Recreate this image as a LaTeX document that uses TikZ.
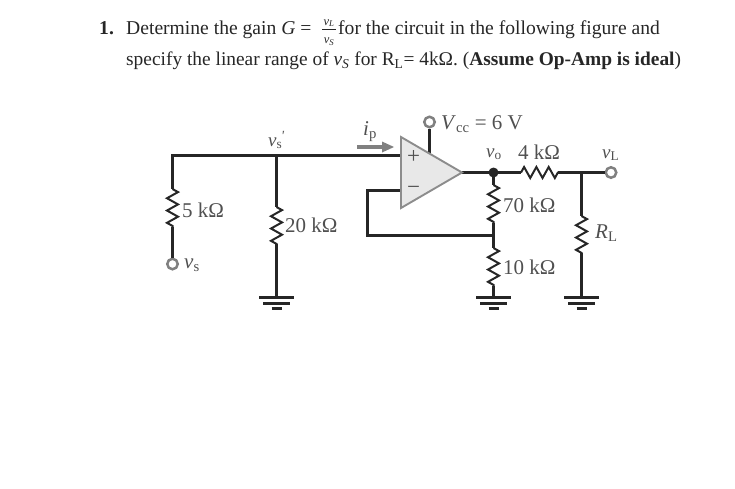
\documentclass[tikz,border=0pt]{standalone}
\usepackage{fontspec}
\setmainfont{Liberation Serif}
\usetikzlibrary{decorations.pathmorphing}
\definecolor{wirec}{HTML}{262626}
\definecolor{labelc}{HTML}{505050}
\definecolor{termc}{HTML}{808080}
\tikzset{
  wire/.style={draw=wirec,line width=2.7pt},
  thin wire/.style={draw=wirec,line width=2.2pt},
  res/.style={draw=wirec,line width=2pt,decorate,decoration={zigzag,segment length=12.3pt,amplitude=5.5pt}},
  term/.style={circle,draw=termc,line width=2.5pt,fill=white,minimum size=10.5pt,inner sep=0pt},
  dot/.style={circle,fill=wirec,minimum size=10pt,inner sep=0pt},
  opamp/.style={draw=black!45,line width=1.9pt,fill=black!9},
  gnd/.style={draw=wirec},
  lab/.style={text=labelc,font=\fontsize{21}{21}\selectfont,anchor=base west,inner sep=0pt},
  ilab/.style={text=labelc,font=\fontsize{21}{21}\selectfont\itshape,anchor=base west,inner sep=0pt},
  txt/.style={text=black!85,font=\fontsize{19.6}{19.6}\selectfont,anchor=base west,inner sep=0pt},
  frac/.style={text=black!85,font=\fontsize{12.5}{12.5}\selectfont\itshape,anchor=base,inner sep=0pt},
}
\begin{document}
\begin{tikzpicture}[x=1pt,y=-1pt]
\useasboundingbox (0,0) rectangle (735,488);
% question text
\node[txt,font=\fontsize{19.6}{19.6}\selectfont\bfseries] (num) at (99,34) {1.};
\node[txt] (q1a) at (126,34) {Determine the gain \textit{G} =};
\node[frac] (fn) at (329,25) {v\textsubscript{L}};
\node[frac] (fd) at (329,43.5) {v\textsubscript{S}};
\coordinate (fl) at (322,29.5); \coordinate (fr) at (336,29.5);
\draw[black!85,line width=.7pt] (fl) -- (fr);
\node[txt] (q1b) at (338,34) {for the circuit in the following figure and};
\node[txt,font=\fontsize{19.4}{19.4}\selectfont] (q2) at (126,65) {specify the linear range of \textit{v\textsubscript{S}} for R\textsubscript{L}= 4kΩ. (\textbf{Assume Op-Amp is ideal})};
% op-amp
\coordinate (oa) at (401,137); \coordinate (ob) at (401,208); \coordinate (oc) at (462,172.5);
\coordinate (ip) at (401,155.5); \coordinate (im) at (401,190.5); \coordinate (vcctop) at (429.5,153);
% coordinates
\coordinate (tl) at (172.5,155.5); \coordinate (tm) at (276.5,155.5);
\coordinate (r1a) at (172.5,189); \coordinate (r1b) at (172.5,227);
\coordinate (r2a) at (276.5,207); \coordinate (r2b) at (276.5,244);
\coordinate (g2) at (276.5,297.5);
\coordinate (j) at (493.5,172.5);
\coordinate (r4a) at (521,172.5); \coordinate (r4b) at (558,172.5);
\coordinate (jl) at (581.5,172.5);
\coordinate (r7a) at (493.5,185); \coordinate (r7b) at (493.5,223);
\coordinate (fbj) at (493.5,235.5);
\coordinate (fb1) at (367.5,190.5); \coordinate (fb2) at (367.5,235.5);
\coordinate (r1a') at (493.5,248); \coordinate (r1b') at (493.5,286);
\coordinate (g3) at (493.5,297.5);
\coordinate (rla) at (581.5,216); \coordinate (rlb) at (581.5,253);
\coordinate (g4) at (581.5,297.5);
\node[term] (vs) at (172.5,264) {};
\node[term] (vcc) at (429.5,122) {};
\node[term] (vl) at (611,172.5) {};
% wires
\draw[wire,line join=miter] (r1a) -- (tl) -- (ip);
\draw[wire] (r1b) -- (vs);
\draw[thin wire] (tm) -- (r2a) (r2b) -- (g2);
\draw[res] (r1a) -- (r1b);
\draw[res] (r2a) -- (r2b);
\draw[thin wire] (vcc) -- (vcctop);
\draw[thin wire,line join=miter] (im) -- (fb1) -- (fb2) -- (fbj);
\draw[thin wire] (oc) -- (r4a) (r4b) -- (vl);
\draw[res] (r4a) -- (r4b);
\draw[thin wire] (j) -- (r7a) (r7b) -- (r1a') (r1b') -- (g3);
\draw[res] (r7a) -- (r7b);
\draw[res] (r1a') -- (r1b');
\draw[thin wire] (jl) -- (rla) (rlb) -- (g4);
\draw[res] (rla) -- (rlb);
\node[dot] (jd) at (j) {};
\draw[opamp,line join=miter] (oa) -- (oc) -- (ob) -- cycle;
\node[lab,anchor=center,font=\fontsize{23}{23}\selectfont] (plus) at (413.5,157) {+};
\node[lab,anchor=center,font=\fontsize{23}{23}\selectfont] (minus) at (413.5,190) {−};
% grounds
\foreach \g in {g2,g3,g4}{
  \draw[gnd,line width=2.4pt] ([xshift=-17.5pt]\g) -- ([xshift=17.5pt]\g);
  \draw[gnd,line width=3.8pt] ([xshift=-13.5pt,yshift=-6pt]\g) -- ([xshift=13.5pt,yshift=-6pt]\g);
  \draw[gnd,line width=2.6pt] ([xshift=-5pt,yshift=-11pt]\g) -- ([xshift=5pt,yshift=-11pt]\g);
}
% current arrow
\coordinate (ipa) at (357,147); \coordinate (ipb) at (394,147);
\draw[draw=black!50,line width=3.6pt] (ipa) -- (384,147);
\fill[black!50] (382,141.5) -- (ipb) -- (382,152.5) -- cycle;
% labels
\node[lab] (l5k) at (182,217) {5 kΩ};
\node[lab] (l20k) at (285,232) {20 kΩ};
\node[ilab] (lvs) at (184,268) {v\textsubscript{\upshape s}};
\node[ilab,font=\fontsize{19}{19}\selectfont\itshape] (lvsp) at (268,146) {v\textsubscript{\upshape s}};
\node[ilab,font=\fontsize{14}{14}\selectfont\itshape] (lprime) at (281,140) {\textquotesingle};
\node[ilab] (lip) at (363,135) {i\textsubscript{\upshape p}};
\node[lab] (lvcc) at (441,129.5) {\textit{V}\textsubscript{cc} = 6 V};
\node[ilab,font=\fontsize{19}{19}\selectfont\itshape] (lvo) at (486,157) {v\textsubscript{\upshape o}};
\node[lab] (l4k) at (518,159) {4 kΩ};
\node[ilab,font=\fontsize{19}{19}\selectfont\itshape] (lvl) at (602,158) {v\textsubscript{\upshape L}};
\node[lab] (l70k) at (503,212.5) {70 kΩ};
\node[lab] (l10k) at (503,274) {10 kΩ};
\node[lab] (lrl) at (595,238) {\textit{R}\textsubscript{L}};
\end{tikzpicture}
\end{document}
